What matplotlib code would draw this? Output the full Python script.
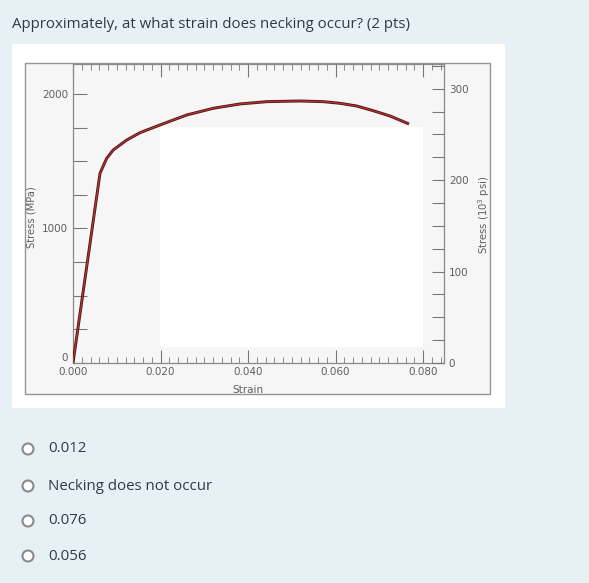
import numpy as np
import matplotlib
matplotlib.use("Agg")
import matplotlib.pyplot as plt
from matplotlib.patches import Rectangle, Circle
from matplotlib.ticker import MultipleLocator

# Values.
strain = [0.0, 0.00617, 0.0077, 0.0092, 0.0123, 0.0153, 0.0199, 0.0260, 0.0321,
          0.0382, 0.0443, 0.0519, 0.0572, 0.0610, 0.0648, 0.0686, 0.0725, 0.0768]
stress = [0, 1410, 1522, 1584, 1658, 1712, 1770, 1844, 1894,
          1926, 1943, 1948, 1943, 1931, 1911, 1876, 1836, 1777]  # MPa
mpa_ticks = [0, 1000, 2000]

question = "Approximately, at what strain does necking occur? (2 pts)"
choices = ["0.012", "Necking does not occur", "0.076", "0.056"]
choice_y = [449, 486, 521, 556]  # px from top

W, H = 589, 583
PT = 0.72  # points per pixel at dpi 100
fig = plt.figure(figsize=(W / 100, H / 100), dpi=100)
fig.patch.set_facecolor("#e7f1f5")

# Background layer in pixel coordinates.
bg = fig.add_axes([0, 0, 1, 1])
bg.set_xlim(0, W)
bg.set_ylim(H, 0)
bg.axis("off")
bg.add_patch(Rectangle((12, 44), 493, 364, facecolor="white", edgecolor="none"))
bg.add_patch(Rectangle((25, 63), 465, 331, facecolor="#f6f6f6", edgecolor="#959595", lw=1))

text_font = ["Open Sans", "DejaVu Sans"]
bg.text(12, 24, question, fontsize=10.8, family=text_font, color="#2d3b45", va="center")
for lab, y in zip(choices, choice_y):
    bg.add_patch(Circle((28, y), 5.5, facecolor="white", edgecolor="#8a8a8a", lw=1.5))
    bg.text(48, y, lab, fontsize=10.8, family=text_font, color="#2d3b45", va="center")

chart_col = "#5f5f5f"
bg.text(31, 217, "Stress (MPa)", rotation=90, fontsize=7.2, color=chart_col, ha="center", va="center")
bg.text(484, 215, "Stress (10$^3$ psi)", rotation=90, fontsize=7.2, color=chart_col, ha="center", va="center")
bg.text(248, 390, "Strain", fontsize=7.5, color=chart_col, ha="center", va="center")

# Chart axes.
ax = fig.add_axes([73 / W, 1 - 363 / H, (444 - 73) / W, (363 - 64) / H])
ax.set_facecolor("#f6f6f6")
ax.add_patch(Rectangle((0.2345, 0.0535), 0.7085, 0.7355, transform=ax.transAxes,
                       facecolor="white", edgecolor="none", zorder=0))
ax.plot(strain, stress, color="#4a1515", lw=2.1, solid_capstyle="butt", zorder=3)
ax.plot(strain, stress, color="#b83232", lw=0.9, solid_capstyle="butt", zorder=4)

ax.set_xlim(0, 0.0848)
ax.set_ylim(0, 2223)
ax.xaxis.set_major_locator(MultipleLocator(0.02))
ax.xaxis.set_minor_locator(MultipleLocator(0.002))
ax.xaxis.set_major_formatter(lambda v, p: f"{v:.3f}")
ax.set_yticks(mpa_ticks)
ax.yaxis.set_minor_locator(MultipleLocator(250))
ax.tick_params(axis="x", which="major", direction="in", top=True, length=13 * PT, width=0.8,
               color="#777777", labelsize=7.5, labelcolor=chart_col, pad=3)
ax.tick_params(axis="x", which="minor", direction="in", top=True, length=6 * PT, width=0.7,
               color="#888888")
ax.tick_params(axis="y", which="both", direction="in", length=14 * PT, width=0.8,
               color="#777777", labelsize=7.5, labelcolor=chart_col, pad=3.5)
for s in ax.spines.values():
    s.set_color("#8a8a8a")
    s.set_linewidth(0.9)
# lift the "0" stress label so it clears "0.000"
ax.get_yticklabels()[0].set_va("bottom")

ax2 = ax.twinx()
ax2.set_ylim(0, 327)
ax2.yaxis.set_major_locator(MultipleLocator(100))
ax2.yaxis.set_minor_locator(MultipleLocator(25))
ax2.tick_params(axis="y", which="both", direction="in", length=12 * PT, width=0.8,
                color="#777777", labelsize=7.5, labelcolor=chart_col, pad=3.5)
for s in ax2.spines.values():
    s.set_visible(False)

fig.savefig("out.png", dpi=100, facecolor=fig.get_facecolor())
